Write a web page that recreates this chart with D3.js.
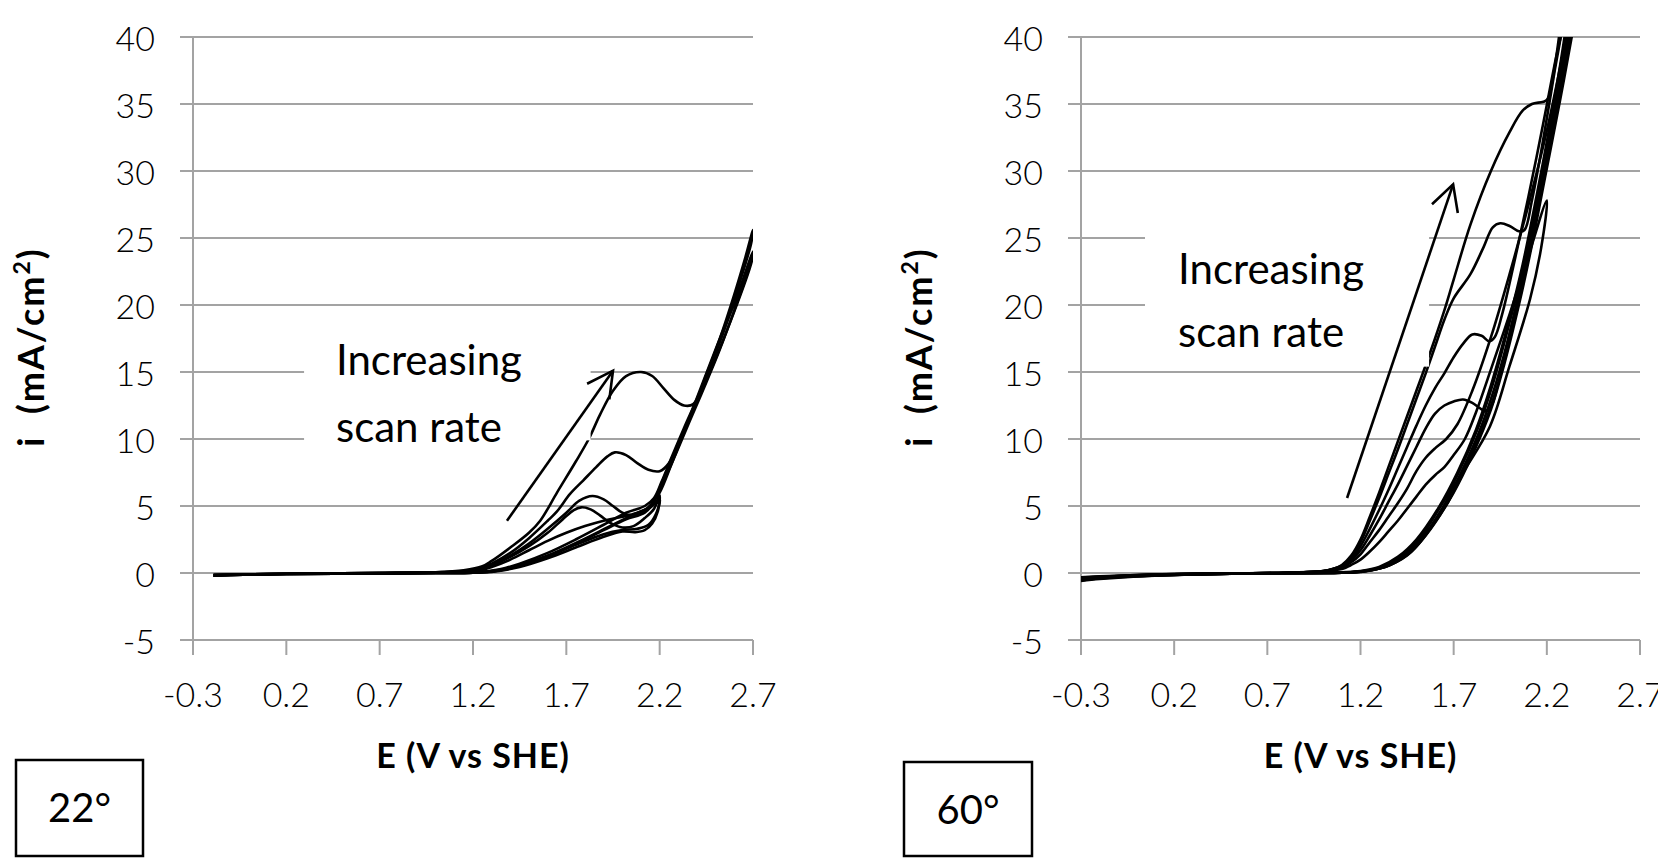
<!DOCTYPE html>
<html><head><meta charset="utf-8">
<script src="https://cdn.jsdelivr.net/npm/d3@7"></script>
<style>
html,body{margin:0;padding:0;background:#fff;}
svg{display:block;}
text{font-family:Lato,"Open Sans",sans-serif;fill:#000;}
</style></head><body>
<svg id="chart" width="1658" height="859"></svg>
<script>
// ---------- tick values / labels ----------
const E_TICKS = [-0.3, 0.2, 0.7, 1.2, 1.7, 2.2, 2.7];
const E_TICK_LABELS = ['-0.3', '0.2', '0.7', '1.2', '1.7', '2.2', '2.7'];
const I_TICKS = [-5, 0, 5, 10, 15, 20, 25, 30, 35, 40];
const I_TICK_LABELS = ['-5', '0', '5', '10', '15', '20', '25', '30', '35', '40'];

// ---------- 22° panel: CV loops [E (V vs SHE), i (mA/cm2)] ----------
const cv22_rate5 = [[-0.19,-0.15],[0.0,-0.1],[0.3,-0.04],[0.7,0],[1.0,0.05],[1.15,0.2],[1.25,0.5],[1.3,0.9],[1.4,1.9],[1.5,3.0],[1.56,3.9],[1.65,6.0],[1.75,8.3],[1.82,10.0],[1.88,11.8],[1.95,13.6],[2.02,14.7],[2.1,15.0],[2.16,14.7],[2.22,13.8],[2.28,12.9],[2.33,12.5],[2.38,12.6],[2.45,14.8],[2.52,17.4],[2.6,20.8],[2.66,23.6],[2.7,25.6],
  [2.69,24.6],[2.62,21.3],[2.55,18.3],[2.48,15.7],[2.4,13.0],[2.33,10.8],[2.26,8.5],[2.21,6.8],[2.17,5.6],[2.12,5.0],[2.02,4.5],[1.9,3.6],[1.75,2.5],[1.6,1.5],[1.45,0.7],[1.35,0.3],[1.2,0.05],[1.0,0.0],[0.6,-0.04],[0.2,-0.08],[-0.1,-0.15],[-0.19,-0.2]];
const cv22_rate4 = [[-0.19,-0.15],[0.0,-0.1],[0.3,-0.04],[0.7,0],[1.0,0.05],[1.15,0.15],[1.25,0.4],[1.3,0.7],[1.4,1.5],[1.5,2.6],[1.6,3.9],[1.65,4.6],[1.72,5.9],[1.79,6.9],[1.86,7.9],[1.92,8.7],[1.96,9.0],[2.02,8.8],[2.08,8.2],[2.14,7.7],[2.2,7.6],[2.25,8.2],[2.3,9.7],[2.38,12.2],[2.46,15.0],[2.54,18.0],[2.62,20.9],[2.7,24.0],
  [2.68,22.8],[2.6,19.6],[2.52,16.6],[2.44,13.9],[2.36,11.3],[2.29,9.0],[2.23,7.1],[2.18,5.7],[2.14,4.9],[2.05,4.3],[1.92,3.4],[1.76,2.3],[1.6,1.3],[1.45,0.6],[1.33,0.2],[1.2,0.03],[1.0,0.0],[0.6,-0.04],[0.2,-0.08],[-0.1,-0.15],[-0.19,-0.2]];
const cv22_rate3 = [[-0.19,-0.15],[0.0,-0.1],[0.3,-0.04],[0.7,0],[1.0,0.05],[1.15,0.12],[1.25,0.35],[1.3,0.6],[1.4,1.3],[1.5,2.2],[1.6,3.3],[1.7,4.5],[1.77,5.4],[1.84,5.75],[1.9,5.5],[1.95,5.0],[2.0,4.5],[2.05,4.3],[2.1,4.5],[2.15,5.0],[2.2,6.0],[2.26,8.0],[2.34,10.9],[2.42,13.8],[2.5,16.7],[2.58,19.5],[2.65,21.7],[2.7,23.5],
  [2.66,21.8],[2.58,18.8],[2.5,16.0],[2.42,13.4],[2.34,10.9],[2.27,8.6],[2.21,6.7],[2.17,5.3],[2.12,4.5],[2.02,4.0],[1.9,3.2],[1.74,2.1],[1.58,1.1],[1.43,0.45],[1.3,0.12],[1.2,0.02],[1.0,0.0],[0.6,-0.04],[0.2,-0.08],[-0.1,-0.15],[-0.19,-0.2]];
const cv22_rate2 = [[-0.19,-0.15],[0.0,-0.1],[0.3,-0.04],[0.7,0],[1.0,0.05],[1.15,0.1],[1.25,0.3],[1.3,0.55],[1.4,1.2],[1.5,2.0],[1.6,3.0],[1.68,4.0],[1.74,4.7],[1.78,4.9],[1.83,4.75],[1.88,4.3],[1.94,3.7],[2.0,3.4],[2.06,3.5],[2.12,4.1],[2.17,4.8],[2.2,5.8],
  [2.19,4.6],[2.16,3.7],[2.12,3.2],[2.07,3.05],[2.0,3.1],[1.9,2.7],[1.75,1.9],[1.6,1.1],[1.45,0.45],[1.32,0.12],[1.2,0.02],[1.0,0.0],[0.6,-0.04],[0.2,-0.08],[-0.1,-0.15],[-0.19,-0.2]];
const cv22_rate1 = [[-0.19,-0.15],[0.0,-0.1],[0.3,-0.04],[0.7,0],[1.0,0.05],[1.15,0.1],[1.25,0.25],[1.3,0.45],[1.4,1.0],[1.5,1.7],[1.6,2.4],[1.7,3.0],[1.8,3.5],[1.9,3.9],[2.0,4.2],[2.08,4.5],[2.15,4.9],[2.2,5.5],
  [2.18,4.4],[2.14,3.6],[2.08,3.3],[2.0,3.2],[1.9,2.9],[1.75,2.1],[1.6,1.25],[1.45,0.55],[1.32,0.15],[1.2,0.02],[1.0,0.0],[0.6,-0.04],[0.2,-0.08],[-0.1,-0.15],[-0.19,-0.2]];

// ---------- 60° panel ----------
const cv60_rate6 = [[-0.3,-0.5],[-0.2,-0.4],[0.0,-0.2],[0.2,-0.1],[0.5,-0.03],[0.8,0.02],[1.0,0.15],[1.05,0.3],[1.1,0.6],[1.15,1.3],[1.2,2.5],[1.25,4.2],[1.3,6.0],[1.35,7.9],[1.4,9.8],[1.45,11.7],[1.5,13.6],[1.55,15.5],[1.6,17.5],[1.65,19.6],[1.7,21.9],[1.79,26.0],[1.9,30.0],[2.0,32.9],[2.07,34.5],[2.12,35.0],[2.2,35.3],[2.23,36.8],[2.27,40.5],[2.29,43],
  [2.32,43],[2.3,40.5],[2.23,34.5],[2.15,28.5],[2.07,23.0],[2.0,19.0],[1.9,14.0],[1.82,10.7],[1.72,7.5],[1.62,4.9],[1.5,2.5],[1.4,1.2],[1.3,0.45],[1.2,0.15],[1.1,0.05],[1.0,0.0],[0.7,-0.02],[0.3,-0.1],[0.0,-0.25],[-0.2,-0.45],[-0.3,-0.6]];
const cv60_rate5 = [[-0.3,-0.45],[-0.2,-0.35],[0.0,-0.2],[0.2,-0.1],[0.5,-0.03],[0.8,0.02],[1.0,0.15],[1.05,0.3],[1.1,0.55],[1.15,1.2],[1.2,2.3],[1.25,3.9],[1.3,5.6],[1.35,7.4],[1.4,9.2],[1.45,11.1],[1.5,13.0],[1.55,14.9],[1.6,16.9],[1.65,18.9],[1.7,20.5],[1.79,22.3],[1.86,24.3],[1.91,25.8],[1.95,26.1],[2.0,25.9],[2.05,25.5],[2.08,25.6],[2.12,27.8],[2.18,32.3],[2.24,37.3],[2.28,40.5],[2.3,43],
  [2.33,43],[2.31,40.5],[2.24,34.8],[2.16,28.8],[2.08,23.2],[2.0,18.7],[1.91,14.1],[1.83,10.8],[1.73,7.6],[1.63,5.0],[1.51,2.5],[1.41,1.2],[1.3,0.4],[1.2,0.12],[1.1,0.04],[1.0,0.0],[0.7,-0.02],[0.3,-0.1],[0.0,-0.25],[-0.2,-0.4],[-0.3,-0.55]];
const cv60_rate4 = [[-0.3,-0.4],[-0.2,-0.32],[0.0,-0.18],[0.2,-0.1],[0.5,-0.03],[0.8,0.02],[1.0,0.14],[1.05,0.28],[1.1,0.5],[1.15,1.05],[1.2,2.0],[1.25,3.3],[1.3,4.7],[1.35,6.2],[1.4,7.8],[1.45,9.4],[1.5,11.0],[1.55,12.5],[1.6,13.8],[1.65,14.9],[1.7,16.1],[1.75,17.1],[1.8,17.8],[1.85,17.7],[1.89,17.3],[1.92,17.6],[1.96,19.3],[2.03,23.5],[2.1,28.0],[2.18,33.5],[2.25,38.5],[2.29,41],[2.31,43],
  [2.34,43],[2.32,40.5],[2.25,35.0],[2.17,29.0],[2.09,23.4],[2.02,19.0],[1.93,14.3],[1.85,11.0],[1.75,7.8],[1.65,5.1],[1.53,2.6],[1.43,1.2],[1.32,0.4],[1.2,0.1],[1.1,0.03],[1.0,0.0],[0.7,-0.02],[0.3,-0.1],[0.0,-0.22],[-0.2,-0.38],[-0.3,-0.5]];
const cv60_rate3 = [[-0.3,-0.38],[-0.2,-0.3],[0.0,-0.17],[0.2,-0.09],[0.5,-0.03],[0.8,0.02],[1.0,0.13],[1.05,0.26],[1.1,0.45],[1.15,0.95],[1.2,1.7],[1.25,2.8],[1.3,4.0],[1.35,5.3],[1.4,6.6],[1.45,8.0],[1.5,9.4],[1.55,10.8],[1.6,11.9],[1.65,12.5],[1.7,12.8],[1.75,12.95],[1.8,12.7],[1.84,12.3],[1.87,12.1],[1.9,12.4],[1.94,14.2],[2.0,17.8],[2.08,22.8],[2.16,28.3],[2.23,33.5],[2.3,39.5],[2.33,43],
  [2.36,43],[2.33,40.5],[2.26,35.0],[2.18,29.2],[2.1,23.6],[2.03,19.2],[1.95,14.7],[1.87,11.3],[1.77,8.1],[1.67,5.3],[1.55,2.8],[1.45,1.3],[1.33,0.45],[1.2,0.1],[1.1,0.03],[1.0,0.0],[0.7,-0.02],[0.3,-0.1],[0.0,-0.2],[-0.2,-0.35],[-0.3,-0.48]];
const cv60_rate2 = [[-0.3,-0.35],[-0.2,-0.28],[0.0,-0.16],[0.2,-0.08],[0.5,-0.03],[0.8,0.02],[1.0,0.12],[1.05,0.24],[1.1,0.4],[1.15,0.8],[1.2,1.4],[1.25,2.3],[1.3,3.2],[1.35,4.2],[1.4,5.2],[1.45,6.3],[1.5,7.6],[1.55,8.6],[1.6,9.3],[1.66,10.0],[1.72,11.1],[1.8,13.6],[1.9,17.6],[2.0,22.3],[2.1,27.4],[2.2,33.0],[2.28,38.3],[2.32,41],[2.34,43],
  [2.37,43],[2.34,40.5],[2.27,35.2],[2.19,29.5],[2.11,23.8],[2.05,20.0],[1.97,15.5],[1.9,12.2],[1.8,8.8],[1.7,6.0],[1.6,3.8],[1.48,1.7],[1.36,0.6],[1.22,0.12],[1.1,0.03],[1.0,0.0],[0.7,-0.02],[0.3,-0.1],[0.0,-0.2],[-0.2,-0.33],[-0.3,-0.45]];
const cv60_rate1 = [[-0.3,-0.32],[-0.2,-0.25],[0.0,-0.15],[0.2,-0.08],[0.5,-0.03],[0.8,0.02],[1.0,0.1],[1.05,0.2],[1.1,0.3],[1.15,0.6],[1.2,1.0],[1.25,1.6],[1.3,2.3],[1.35,3.1],[1.4,3.9],[1.45,4.8],[1.5,5.7],[1.55,6.6],[1.6,7.3],[1.65,7.9],[1.7,8.8],[1.76,10.0],[1.82,12.0],[1.9,15.2],[2.0,19.3],[2.1,23.6],[2.2,27.8],
  [2.17,24.3],[2.11,20.45],[2.0,15.45],[1.895,10.95],[1.77,7.95],[1.627,4.95],[1.53,2.8],[1.448,1.45],[1.33,0.5],[1.23,0.15],[1.1,0.03],[1.0,0.0],[0.7,-0.02],[0.3,-0.1],[0.0,-0.18],[-0.2,-0.3],[-0.3,-0.42]];

// ---------- annotations (data units) ----------
const arrow22 = [[1.382, 3.9], [1.95, 15.1]];
const arrow60 = [[1.128, 5.6], [1.697, 29.0]];
const note22 = {lines: ['Increasing', 'scan rate'], E: 0.466, i: [14.8, 9.8], box: [[0.295, 9.9], [1.83, 18.6]]};
const note60 = {lines: ['Increasing', 'scan rate'], E: 0.221, i: [21.6, 16.85], box: [[0.0435, 15.4], [1.568, 28.6]]};

const panels = [
  {x0: 193, x1: 753, curves: [cv22_rate1, cv22_rate2, cv22_rate3, cv22_rate4, cv22_rate5], arrow: arrow22, note: note22, angle: '22°', angleBox: [16, 760, 127, 96], yTitleX: 44},
  {x0: 1081, x1: 1640, curves: [cv60_rate1, cv60_rate2, cv60_rate3, cv60_rate4, cv60_rate5, cv60_rate6], arrow: arrow60, note: note60, angle: '60°', angleBox: [904, 762, 128, 94], yTitleX: 932}
];

const svg = d3.select('#chart');
const GRID = '#a3a3a3';
const y = d3.scaleLinear().domain([-5, 40]).range([640, 37]);

panels.forEach((p, k) => {
  const x = d3.scaleLinear().domain([-0.3, 2.7]).range([p.x0, p.x1]);
  const g = svg.append('g');

  // gridlines (extend left of axis like tick marks)
  g.selectAll('line.grid').data(I_TICKS).join('line')
    .attr('x1', p.x0 - 13).attr('x2', p.x1)
    .attr('y1', d => y(d)).attr('y2', d => y(d))
    .attr('stroke', GRID).attr('stroke-width', 2);
  // y axis line
  g.append('line').attr('x1', p.x0).attr('x2', p.x0)
    .attr('y1', y(40)).attr('y2', y(-5) + 15)
    .attr('stroke', GRID).attr('stroke-width', 2);
  // x ticks
  g.selectAll('line.xt').data(E_TICKS).join('line')
    .attr('x1', d => x(d)).attr('x2', d => x(d))
    .attr('y1', y(-5)).attr('y2', y(-5) + 15)
    .attr('stroke', GRID).attr('stroke-width', 2);
  // y tick labels
  g.selectAll('text.yl').data(I_TICKS).join('text')
    .attr('x', p.x0 - 38).attr('y', d => y(d))
    .attr('text-anchor', 'end').attr('dominant-baseline', 'central')
    .style('font-size', '34px').style('font-weight', 300)
    .text((d, i) => I_TICK_LABELS[i]);
  // x tick labels
  g.selectAll('text.xl').data(E_TICKS).join('text')
    .attr('x', d => x(d)).attr('y', 707)
    .attr('text-anchor', 'middle')
    .style('font-size', '34px').style('font-weight', 300)
    .text((d, i) => E_TICK_LABELS[i]);

  // curves
  const cid = 'clip' + k;
  svg.append('clipPath').attr('id', cid).append('rect')
    .attr('x', p.x0).attr('y', y(40)).attr('width', p.x1 - p.x0).attr('height', y(-5) - y(40));
  const line = d3.line().x(d => x(d[0])).y(d => y(d[1])).curve(d3.curveCatmullRom.alpha(0.5));
  g.append('g').attr('clip-path', `url(#${cid})`)
    .selectAll('path').data(p.curves).join('path')
    .attr('d', line).attr('fill', 'none').attr('stroke', '#000')
    .attr('stroke-width', 2.6).attr('stroke-linejoin', 'round');

  // text box
  const b = p.note.box;
  g.append('rect').attr('x', x(b[0][0])).attr('y', y(b[1][1]))
    .attr('width', x(b[1][0]) - x(b[0][0])).attr('height', y(b[0][1]) - y(b[1][1]))
    .attr('fill', '#fff');
  p.note.lines.forEach((t, i) => {
    g.append('text').attr('x', x(p.note.E)).attr('y', y(p.note.i[i]))
      .style('font-size', '42px').text(t);
  });

  // arrow
  const [a0, a1] = p.arrow;
  const X0 = x(a0[0]), Y0 = y(a0[1]), X1 = x(a1[0]), Y1 = y(a1[1]);
  const ang = Math.atan2(Y1 - Y0, X1 - X0);
  const L = 29, h = 28 * Math.PI / 180;
  g.append('line').attr('x1', X0).attr('y1', Y0).attr('x2', X1).attr('y2', Y1)
    .attr('stroke', '#000').attr('stroke-width', 2.6);
  g.append('path')
    .attr('d', `M${X1 - L * Math.cos(ang - h)},${Y1 - L * Math.sin(ang - h)} L${X1},${Y1} L${X1 - L * Math.cos(ang + h)},${Y1 - L * Math.sin(ang + h)}`)
    .attr('fill', 'none').attr('stroke', '#000').attr('stroke-width', 2.6);

  // axis titles
  const yt = g.append('text').attr('transform', `translate(${p.yTitleX},347) rotate(-90)`)
    .attr('text-anchor', 'middle').style('font-size', '36px').style('font-weight', 700)
    .style('letter-spacing', '2px');
  yt.append('tspan').text('i\u00a0\u00a0(mA/cm');
  yt.append('tspan').attr('dy', -14).style('font-size', '23px').text('2');
  yt.append('tspan').attr('dy', 14).text(')');
  g.append('text').attr('x', (p.x0 + p.x1) / 2).attr('y', 768)
    .attr('text-anchor', 'middle').style('font-size', '34px').style('font-weight', 700)
    .style('letter-spacing', '1px')
    .text('E (V vs SHE)');

  // angle box
  const ab = p.angleBox;
  g.append('rect').attr('x', ab[0]).attr('y', ab[1]).attr('width', ab[2]).attr('height', ab[3])
    .attr('fill', 'none').attr('stroke', '#000').attr('stroke-width', 2.5);
  g.append('text').attr('x', ab[0] + ab[2] / 2).attr('y', ab[1] + 62)
    .attr('text-anchor', 'middle').style('font-size', '40px').text(p.angle);
});
</script>
</body></html>
